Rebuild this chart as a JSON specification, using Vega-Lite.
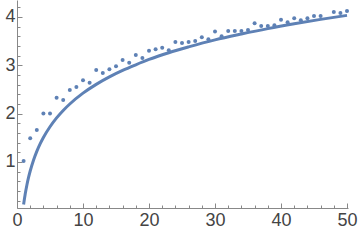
{
  "$schema": "https://vega.github.io/schema/vega-lite/v6.json",
  "width": 331,
  "height": 208,
  "autosize": {"type": "none"},
  "padding": {"left": 17, "top": 0, "right": 12, "bottom": 32},
  "background": "white",
  "config": {
    "view": {"stroke": null},
    "axis": {
      "grid": false,
      "title": null,
      "domainColor": "#888888",
      "domainWidth": 1,
      "tickColor": "#888888",
      "tickWidth": 1,
      "labelColor": "#444444",
      "labelFont": "Liberation Sans",
      "labelFontSize": 18,
      "labelOverlap": false,
      "labelFlush": false
    }
  },
  "datasets": {
    "curve": [
      {"x": 1, "y": 0.12}, {"x": 1.25, "y": 0.343}, {"x": 1.5, "y": 0.525}, {"x": 1.75, "y": 0.68},
      {"x": 2, "y": 0.813}, {"x": 2.5, "y": 1.036}, {"x": 3, "y": 1.219}, {"x": 3.5, "y": 1.373},
      {"x": 4, "y": 1.506}, {"x": 5, "y": 1.729}, {"x": 6, "y": 1.912}, {"x": 7, "y": 2.066},
      {"x": 8, "y": 2.199}, {"x": 10, "y": 2.423}, {"x": 12, "y": 2.605}, {"x": 14, "y": 2.759},
      {"x": 16, "y": 2.893}, {"x": 18, "y": 3.01}, {"x": 20, "y": 3.12}, {"x": 23, "y": 3.26},
      {"x": 26, "y": 3.38}, {"x": 30, "y": 3.525}, {"x": 34, "y": 3.646}, {"x": 38, "y": 3.758},
      {"x": 42, "y": 3.858}, {"x": 46, "y": 3.949}, {"x": 50, "y": 4.032}
    ],
    "pts": [
      {"x": 1, "y": 1.02}, {"x": 2, "y": 1.49}, {"x": 3, "y": 1.66}, {"x": 4, "y": 2.0}, {"x": 5, "y": 2.0},
      {"x": 6, "y": 2.33}, {"x": 7, "y": 2.28}, {"x": 8, "y": 2.49}, {"x": 9, "y": 2.55}, {"x": 10, "y": 2.69},
      {"x": 11, "y": 2.64}, {"x": 12, "y": 2.9}, {"x": 13, "y": 2.84}, {"x": 14, "y": 2.92}, {"x": 15, "y": 2.98},
      {"x": 16, "y": 3.11}, {"x": 17, "y": 3.05}, {"x": 18, "y": 3.21}, {"x": 19, "y": 3.15}, {"x": 20, "y": 3.3},
      {"x": 21, "y": 3.33}, {"x": 22, "y": 3.36}, {"x": 23, "y": 3.31}, {"x": 24, "y": 3.48}, {"x": 25, "y": 3.46},
      {"x": 26, "y": 3.48}, {"x": 27, "y": 3.5}, {"x": 28, "y": 3.58}, {"x": 29, "y": 3.54}, {"x": 30, "y": 3.7},
      {"x": 31, "y": 3.6}, {"x": 32, "y": 3.71}, {"x": 33, "y": 3.71}, {"x": 34, "y": 3.71}, {"x": 35, "y": 3.73},
      {"x": 36, "y": 3.87}, {"x": 37, "y": 3.81}, {"x": 38, "y": 3.81}, {"x": 39, "y": 3.83}, {"x": 40, "y": 3.94},
      {"x": 41, "y": 3.89}, {"x": 42, "y": 3.97}, {"x": 43, "y": 3.93}, {"x": 44, "y": 3.97}, {"x": 45, "y": 4.02},
      {"x": 46, "y": 4.02}, {"x": 48, "y": 4.1}, {"x": 49, "y": 4.08}, {"x": 50, "y": 4.12}
    ]
  },
  "resolve": {"axis": {"x": "independent", "y": "independent"}},
  "layer": [
    {
      "data": {"name": "curve"},
      "mark": {"type": "line", "color": "#5E81B5", "strokeWidth": 3, "interpolate": "monotone", "clip": true},
      "encoding": {
        "x": {
          "field": "x", "type": "quantitative",
          "scale": {"domain": [0, 50.15], "nice": false, "zero": false},
          "axis": {
            "orient": "bottom",
            "values": [0, 10, 20, 30, 40, 50],
            "labelOverlap": false,
            "tickSize": -5,
            "labelPadding": 8
          }
        },
        "y": {
          "field": "y", "type": "quantitative",
          "scale": {"domain": [0.048, 4.35], "nice": false, "zero": false},
          "axis": {
            "orient": "left",
            "values": [1, 2, 3, 4],
            "labelOverlap": false,
            "tickSize": -5,
            "labelPadding": 7
          }
        }
      }
    },
    {
      "data": {"name": "pts"},
      "mark": {"type": "point", "filled": true, "size": 16, "color": "#5E81B5", "opacity": 1},
      "encoding": {
        "x": {
          "field": "x", "type": "quantitative",
          "axis": {
            "orient": "bottom",
            "values": [2, 4, 6, 8, 12, 14, 16, 18, 22, 24, 26, 28, 32, 34, 36, 38, 42, 44, 46, 48],
            "labels": false,
            "domain": false,
            "tickSize": -3
          }
        },
        "y": {
          "field": "y", "type": "quantitative",
          "axis": {
            "orient": "left",
            "values": [0.2, 0.4, 0.6, 0.8, 1.2, 1.4, 1.6, 1.8, 2.2, 2.4, 2.6, 2.8, 3.2, 3.4, 3.6, 3.8, 4.2],
            "labels": false,
            "domain": false,
            "tickSize": -3
          }
        }
      }
    }
  ]
}
